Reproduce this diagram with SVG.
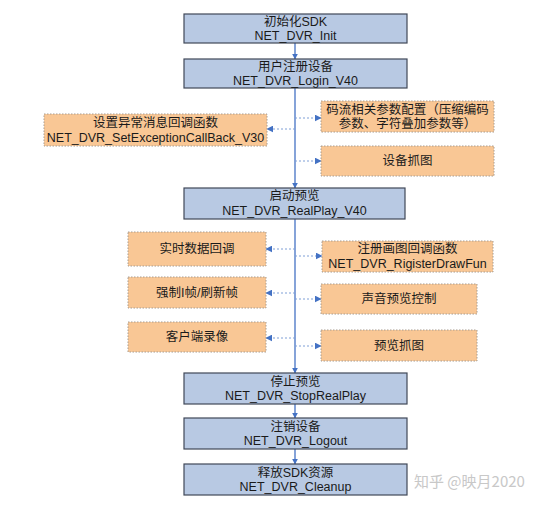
<svg xmlns="http://www.w3.org/2000/svg" width="554" height="506" viewBox="0 0 554 506">
<defs>
<marker id="ah" viewBox="0 0 10 10" refX="9" refY="5" markerWidth="6" markerHeight="6" markerUnits="userSpaceOnUse" orient="auto"><path d="M0,0 L10,5 L0,10 z" fill="#4472C4"/></marker>
<marker id="ahd" viewBox="0 0 10 10" refX="9" refY="5" markerWidth="7" markerHeight="7" markerUnits="userSpaceOnUse" orient="auto"><path d="M0,0 L10,5 L0,10 z" fill="#4472C4"/></marker>
</defs>
<style>
.main{fill:#B8C9E3;stroke:#404858;stroke-width:1.2}
.sub{fill:#F9C795;stroke:#A89C90;stroke-width:1;stroke-dasharray:1.5 1.5}
text{font-family:"Liberation Sans","Noto Sans CJK SC",sans-serif;font-size:12.5px;fill:#1a1a1a;text-anchor:middle}
.ln{stroke:#4472C4;stroke-width:1.3;fill:none}
.dl{stroke:#7F9FD6;stroke-width:1;stroke-dasharray:2 2;fill:none}
.wm{font-family:"Noto Sans CJK SC",sans-serif;font-size:15px;fill:#C8C8C8;text-anchor:start}
</style>
<rect width="554" height="506" fill="#ffffff"/>
<g id="connectors">
<line class="ln" x1="295" y1="43" x2="295" y2="59" marker-end="url(#ah)"/>
<line class="ln" x1="295" y1="88" x2="295" y2="188" marker-end="url(#ah)"/>
<line class="ln" x1="295" y1="219" x2="295" y2="373" marker-end="url(#ah)"/>
<line class="ln" x1="295" y1="404" x2="295" y2="418" marker-end="url(#ah)"/>
<line class="ln" x1="295" y1="449" x2="295" y2="464" marker-end="url(#ah)"/>
<line class="dl" x1="295" y1="129" x2="267" y2="129" marker-end="url(#ahd)"/>
<line class="dl" x1="295" y1="118" x2="321" y2="118" marker-end="url(#ahd)"/>
<line class="dl" x1="295" y1="161" x2="321" y2="161" marker-end="url(#ahd)"/>
<line class="dl" x1="295" y1="249" x2="266" y2="249" marker-end="url(#ahd)"/>
<line class="dl" x1="295" y1="256" x2="322" y2="256" marker-end="url(#ahd)"/>
<line class="dl" x1="295" y1="293" x2="266" y2="293" marker-end="url(#ahd)"/>
<line class="dl" x1="295" y1="299" x2="321" y2="299" marker-end="url(#ahd)"/>
<line class="dl" x1="295" y1="338" x2="266" y2="338" marker-end="url(#ahd)"/>
<line class="dl" x1="295" y1="346" x2="321" y2="346" marker-end="url(#ahd)"/>
</g>
<g id="init"><rect class="main" x="184" y="14" width="223" height="29"/><text x="295.5" y="26">初始化SDK</text><text x="295.5" y="40">NET_DVR_Init</text></g>
<g id="login"><rect class="main" x="184" y="59" width="223" height="29"/><text x="295.5" y="71">用户注册设备</text><text x="295.5" y="85">NET_DVR_Login_V40</text></g>
<g id="exception"><rect class="sub" x="44" y="114" width="223" height="32"/><text x="155.5" y="127">设置异常消息回调函数</text><text x="155.5" y="142">NET_DVR_SetExceptionCallBack_V30</text></g>
<g id="stream"><rect class="sub" x="321" y="101" width="173" height="31"/><text x="407.5" y="114">码流相关参数配置（压缩编码</text><text x="407.5" y="128">参数、字符叠加参数等）</text></g>
<g id="capture"><rect class="sub" x="321" y="146" width="173" height="30"/><text x="407.5" y="165">设备抓图</text></g>
<g id="realplay"><rect class="main" x="184" y="188" width="221" height="31"/><text x="294.5" y="200">启动预览</text><text x="294.5" y="215">NET_DVR_RealPlay_V40</text></g>
<g id="realdata"><rect class="sub" x="128" y="232" width="138" height="34"/><text x="197" y="253">实时数据回调</text></g>
<g id="drawfun"><rect class="sub" x="322" y="241" width="171" height="31"/><text x="407.5" y="253">注册画图回调函数</text><text x="407.5" y="268">NET_DVR_RigisterDrawFun</text></g>
<g id="iframe"><rect class="sub" x="128" y="277" width="138" height="31"/><text x="197" y="297">强制I帧/刷新帧</text></g>
<g id="sound"><rect class="sub" x="321" y="284" width="156" height="30"/><text x="399" y="303">声音预览控制</text></g>
<g id="record"><rect class="sub" x="128" y="322" width="138" height="30"/><text x="197" y="341">客户端录像</text></g>
<g id="pcapture"><rect class="sub" x="321" y="330" width="156" height="31"/><text x="399" y="350">预览抓图</text></g>
<g id="stop"><rect class="main" x="184" y="373" width="223" height="31"/><text x="295.5" y="386">停止预览</text><text x="295.5" y="400">NET_DVR_StopRealPlay</text></g>
<g id="logout"><rect class="main" x="184" y="418" width="223" height="31"/><text x="295.5" y="431">注销设备</text><text x="295.5" y="445">NET_DVR_Logout</text></g>
<g id="cleanup"><rect class="main" x="184" y="464" width="223" height="31"/><text x="295.5" y="477">释放SDK资源</text><text x="295.5" y="491">NET_DVR_Cleanup</text></g>
<text class="wm" x="414" y="487">知乎 @映月2020</text>
</svg>
